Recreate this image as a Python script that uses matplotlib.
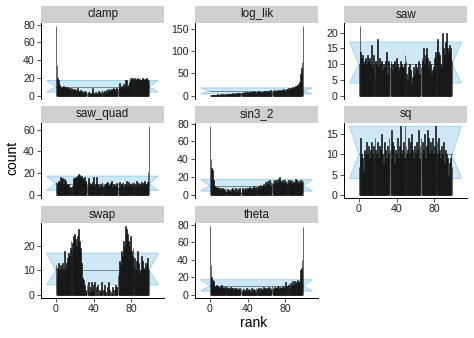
import matplotlib
matplotlib.use("Agg")
import matplotlib.pyplot as plt
import numpy as np

plt.rcParams["font.family"] = ["Liberation Sans", "DejaVu Sans"]

# rank histogram counts, ranks 0..99
clamp = [78, 34, 20, 17, 12, 10, 9, 10, 11, 9, 10, 8, 10, 9, 7, 8, 6, 9, 7, 6,
         7, 5, 6, 8, 5, 4, 6, 5, 4, 3, 5, 4, 4, 3, 2, 4, 3, 2, 3, 8,
         3, 2, 4, 3, 2, 5, 3, 4, 2, 6, 3, 4, 5, 3, 6, 4, 7, 5, 6, 7,
         6, 8, 7, 5, 8, 9, 7, 10, 14, 9, 11, 8, 13, 10, 17, 18, 9, 12, 15, 20,
         18, 20, 19, 17, 20, 18, 19, 20, 18, 19, 17, 18, 20, 19, 18, 19, 20, 17, 19, 18]
log_lik = [1, 1, 1, 2, 1, 2, 2, 1, 3, 2, 2, 3, 2, 3, 3, 2, 4, 3, 3, 4,
           3, 4, 4, 3, 5, 4, 4, 5, 4, 5, 6, 5, 5, 6, 7, 5, 6, 8, 6, 7,
           9, 6, 8, 7, 9, 8, 10, 7, 8, 9, 7, 8, 10, 9, 8, 7, 9, 8, 10, 9,
           11, 8, 10, 9, 12, 9, 10, 11, 9, 12, 10, 11, 13, 10, 12, 11, 13, 12, 14, 11,
           13, 15, 12, 14, 16, 15, 17, 16, 19, 18, 20, 21, 22, 24, 27, 30, 48, 62, 75, 155]
saw = [10, 22, 14, 12, 13, 10, 11, 12, 10, 13, 11, 12, 10, 16, 9, 13, 10, 6, 11, 10,
       18, 9, 12, 10, 11, 8, 10, 9, 11, 14, 7, 11, 10, 9, 11, 10, 8, 10, 11, 9,
       12, 10, 8, 9, 11, 10, 9, 9, 10, 13, 11, 7, 5, 9, 10, 8, 4, 6, 9, 7,
       10, 9, 8, 11, 7, 10, 9, 12, 11, 15, 10, 13, 15, 12, 9, 11, 10, 7, 8, 9,
       12, 14, 13, 16, 18, 14, 13, 10, 9, 20, 15, 13, 17, 20, 15, 14, 16, 15, 12, 11]
saw_quad = [12, 8, 11, 13, 12, 16, 14, 15, 10, 14, 13, 10, 9, 10, 6, 7, 5, 4, 8, 15,
            14, 16, 15, 17, 19, 18, 16, 17, 15, 14, 16, 13, 12, 9, 8, 15, 11, 10, 9, 12,
            16, 8, 10, 16, 10, 9, 7, 10, 8, 12, 9, 7, 9, 10, 11, 12, 8, 9, 11, 13,
            7, 10, 9, 8, 11, 10, 7, 9, 12, 8, 10, 11, 7, 9, 10, 13, 8, 12, 9, 10,
            8, 11, 9, 12, 10, 7, 13, 9, 11, 8, 10, 12, 9, 11, 13, 10, 9, 12, 21, 63]
sin3_2 = [77, 40, 30, 28, 17, 10, 9, 8, 9, 7, 6, 8, 5, 7, 6, 4, 7, 5, 3, 6,
          4, 5, 3, 6, 7, 4, 5, 8, 3, 6, 4, 7, 5, 3, 6, 8, 4, 6, 7, 5,
          8, 6, 9, 7, 6, 8, 10, 7, 9, 8, 6, 9, 10, 8, 11, 9, 10, 12, 9, 14,
          11, 15, 12, 16, 10, 14, 13, 15, 12, 17, 14, 16, 13, 18, 20, 15, 14, 17, 13, 16,
          14, 12, 15, 13, 17, 14, 16, 12, 15, 13, 14, 18, 16, 13, 15, 12, 17, 14, 16, 15]
sq = [7, 9, 14, 10, 9, 6, 11, 10, 13, 10, 12, 9, 11, 13, 10, 12, 9, 14, 11, 10,
      13, 9, 12, 11, 15, 10, 8, 13, 11, 9, 12, 10, 14, 11, 9, 16, 13, 12, 8, 11,
      10, 14, 9, 12, 17, 10, 11, 13, 9, 17, 12, 10, 11, 14, 10, 13, 15, 11, 9, 12,
      10, 13, 11, 16, 9, 12, 14, 10, 13, 11, 15, 9, 12, 16, 14, 10, 13, 11, 14, 10,
      12, 17, 11, 13, 10, 14, 11, 9, 12, 10, 13, 8, 11, 10, 9, 5, 8, 9, 10, 7]
swap = [12, 8, 11, 13, 10, 12, 11, 13, 10, 18, 11, 13, 15, 17, 16, 19, 22, 18, 21, 24,
        25, 23, 20, 24, 27, 22, 19, 13, 7, 6, 4, 2, 1, 4, 3, 5, 1, 3, 5, 2,
        4, 5, 0, 3, 4, 0, 2, 1, 5, 3, 0, 2, 4, 1, 0, 3, 5, 2, 0, 1,
        3, 0, 2, 4, 3, 3, 8, 10, 14, 12, 18, 16, 22, 20, 28, 27, 25, 22, 20, 24,
        18, 16, 19, 12, 15, 10, 14, 18, 13, 9, 10, 16, 14, 11, 10, 13, 12, 15, 11, 10]
theta = [78, 34, 20, 17, 16, 10, 9, 11, 10, 9, 8, 10, 11, 8, 9, 7, 10, 8, 9, 7,
         8, 6, 9, 7, 8, 5, 7, 6, 8, 5, 6, 7, 4, 6, 5, 3, 6, 4, 5, 7,
         4, 6, 5, 3, 7, 4, 6, 5, 3, 8, 5, 6, 7, 4, 8, 6, 5, 9, 7, 6,
         8, 6, 9, 7, 5, 8, 10, 7, 6, 9, 8, 7, 10, 6, 9, 8, 7, 10, 8, 9,
         14, 10, 9, 12, 11, 8, 13, 10, 15, 11, 16, 12, 14, 17, 13, 15, 28, 30, 40, 77]

names = ["clamp", "log_lik", "saw", "saw_quad", "sin3_2", "sq", "swap", "theta"]
series = [clamp, log_lik, saw, saw_quad, sin3_2, sq, swap, theta]
yticks = [[0, 20, 40, 60, 80], [0, 50, 100, 150], [0, 5, 10, 15, 20],
          [0, 20, 40, 60], [0, 20, 40, 60, 80], [0, 5, 10, 15],
          [0, 10, 20], [0, 20, 40, 60, 80]]
xticks = [0, 40, 80]

# expected count and 95% band
ci_low, ci_mean, ci_high = 4, 10, 17

W, H = 474, 338
fig = plt.figure(figsize=(W / 100, H / 100), dpi=100)

cols = [(41, 164), (195, 318), (344, 467)]
rows = [(23, 99), (123, 198), (223, 298)]
strip_h = 17


def box(l, t, r, b):
    return [l / W, 1 - b / H, (r - l) / W, (b - t) / H]


ranks = np.arange(100)
for i, (name, vals) in enumerate(zip(names, series)):
    r, c = divmod(i, 3)
    (l, rr), (t, b) = cols[c], rows[r]
    show_x = (r == 2) or (r == 1 and c == 2)

    ax = fig.add_axes(box(l, t, rr, b))
    ax.fill([-10, 0, -10, 109, 99, 109],
            [ci_low, ci_mean, ci_high, ci_high, ci_mean, ci_low],
            facecolor="#cfe8f6", edgecolor="#9ed3f0", lw=0.7, zorder=1)
    ax.plot([0, 99], [ci_mean, ci_mean], color="#6d8795", lw=0.7, zorder=1.5)
    ax.bar(ranks, vals, width=0.9, color="#151515", edgecolor="#111111",
           linewidth=0.45, zorder=2)

    top = max(max(vals), ci_high)
    ax.set_ylim(-0.05 * top, 1.05 * top)
    ax.set_xlim(-15.95, 114.95)
    ax.set_yticks(yticks[i])
    ax.set_xticks(xticks)
    for s in ["top", "right"]:
        ax.spines[s].set_visible(False)
    for s in ["left", "bottom"]:
        ax.spines[s].set_linewidth(0.7)
    ax.tick_params(length=3, width=0.6, labelsize=7.6, pad=1.5,
                   colors="#333333", labelcolor="#222222")
    if not show_x:
        ax.spines["bottom"].set_visible(False)
        ax.tick_params(axis="x", bottom=False, labelbottom=False)

    sax = fig.add_axes(box(l, t - strip_h, rr, t))
    sax.set_facecolor("#d0d0d0")
    sax.set_xticks([])
    sax.set_yticks([])
    for s in sax.spines.values():
        s.set_visible(False)
    sax.text(0.5, 0.5, name, ha="center", va="center", fontsize=8.4,
             color="#1a1a1a", transform=sax.transAxes)

fig.text(12 / W, 1 - 158 / H, "count", rotation=90, ha="center", va="center",
         fontsize=10)
fig.text(254 / W, 1 - 323 / H, "rank", ha="center", va="center", fontsize=10)

fig.savefig("out.png", dpi=100)
